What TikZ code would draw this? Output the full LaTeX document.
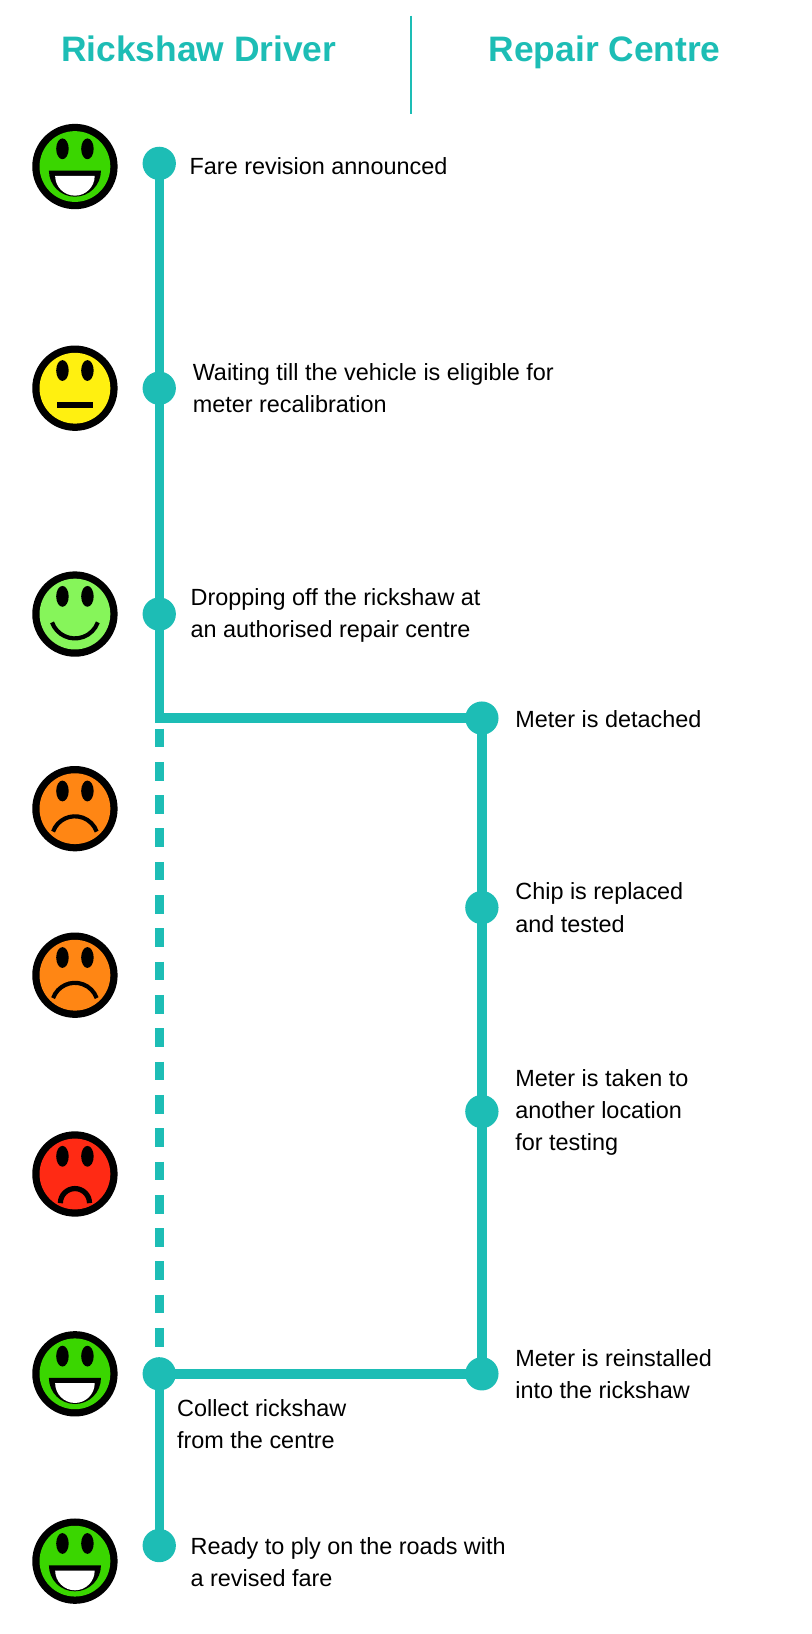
\documentclass[tikz,border=0pt]{standalone}
\usepackage{fontspec}
\setmainfont{Liberation Sans}
\begin{document}
\definecolor{teal1}{HTML}{1DBDB5}
\definecolor{gA}{HTML}{3AD600}
\definecolor{gB}{HTML}{86F55A}
\definecolor{yel}{HTML}{FFF010}
\definecolor{org}{HTML}{FF8614}
\definecolor{red1}{HTML}{FF2A14}
\begin{tikzpicture}[x=1bp,y=-1bp,
  line/.style={teal1,line width=9bp},
  dot/.style={circle,fill=teal1,inner sep=0pt,minimum size=32bp},
  lbl/.style={anchor=west,align=left,font=\fontsize{22.5bp}{31bp}\selectfont,inner sep=0pt},
  head/.style={anchor=base,font=\fontsize{34bp}{38bp}\selectfont\bfseries,text=teal1},
  face/.pic={\fill[black] (0,0) circle (41);
    \fill[#1] (0,0) circle (34);
    \fill[black] (-12,-17) ellipse (6 and 10);
    \fill[black] (12,-17) ellipse (6 and 10);},
  happy/.pic={\pic{face=gA};
    \fill[black] (-25,4) -- (25,4) arc[start angle=0,end angle=180,radius=25] -- cycle;
    \fill[white] (-19,9) -- (19,9) arc[start angle=0,end angle=180,radius=19] -- cycle;},
  smile/.pic={\pic{face=gB};
    \draw[black,line width=4bp] (-22,8) arc[start angle=160,end angle=20,radius=23.4];},
  neutral/.pic={\pic{face=yel};
    \fill[black] (-17,13) rectangle (17,19);},
  sad/.pic={\pic{face=org};
    \draw[black,line width=4bp] (-21,22) arc[start angle=200,end angle=340,radius=22.3];},
  vsad/.pic={\pic{face=red1};
    \draw[black,line width=5bp] (-14,28) arc[start angle=180,end angle=360,radius=14];}
]
\useasboundingbox (0,0) rectangle (780,1570);
\node[head] (h1) at (191,59) {Rickshaw Driver};
\node[head] (h2) at (581,59) {Repair Centre};
\coordinate (dv1) at (395,15); \coordinate (dv2) at (395,110);
\draw[teal1,line width=2.5bp] (dv1) -- (dv2);

\node[dot] (d1) at (153,157) {};
\node[dot] (d2) at (153,373) {};
\node[dot] (d3) at (153,590) {};
\coordinate (c1) at (153,690);
\node[dot] (r1) at (463,690) {};
\node[dot] (r2) at (463,872) {};
\node[dot] (r3) at (463,1068) {};
\node[dot] (r4) at (463,1320) {};
\node[dot] (d4) at (153,1320) {};
\node[dot] (d5) at (153,1485) {};
\coordinate (c2) at (153,700);

\draw[line] (d1.center) -- (c1) -- (r1.center) -- (r4.center) -- (d4.center) -- (d5.center);
\draw[line,dash pattern=on 18bp off 14bp] (c2) -- (d4.center);

\node[lbl] (t1) at (182,160) {Fare revision announced};
\node[lbl] (t2) at (185,373) {Waiting till the vehicle is eligible for\\meter recalibration};
\node[lbl] (t3) at (183,591) {Dropping off the rickshaw at\\an authorised repair centre};
\node[lbl] (t4) at (495,691) {Meter is detached};
\node[lbl] (t5) at (495,872) {Chip is replaced\\and tested};
\node[lbl] (t6) at (495,1069) {Meter is taken to\\another location\\for testing};
\node[lbl] (t7) at (495,1320) {Meter is reinstalled\\into the rickshaw};
\node[lbl] (t8) at (170,1368) {Collect rickshaw\\from the centre};
\node[lbl] (t9) at (183,1501) {Ready to ply on the roads with\\a revised fare};

\pic at (72,160) {happy};
\pic at (72,373) {neutral};
\pic at (72,590) {smile};
\pic at (72,777) {sad};
\pic at (72,937) {sad};
\pic at (72,1128) {vsad};
\pic at (72,1320) {happy};
\pic at (72,1500) {happy};
\end{tikzpicture}
\end{document}
